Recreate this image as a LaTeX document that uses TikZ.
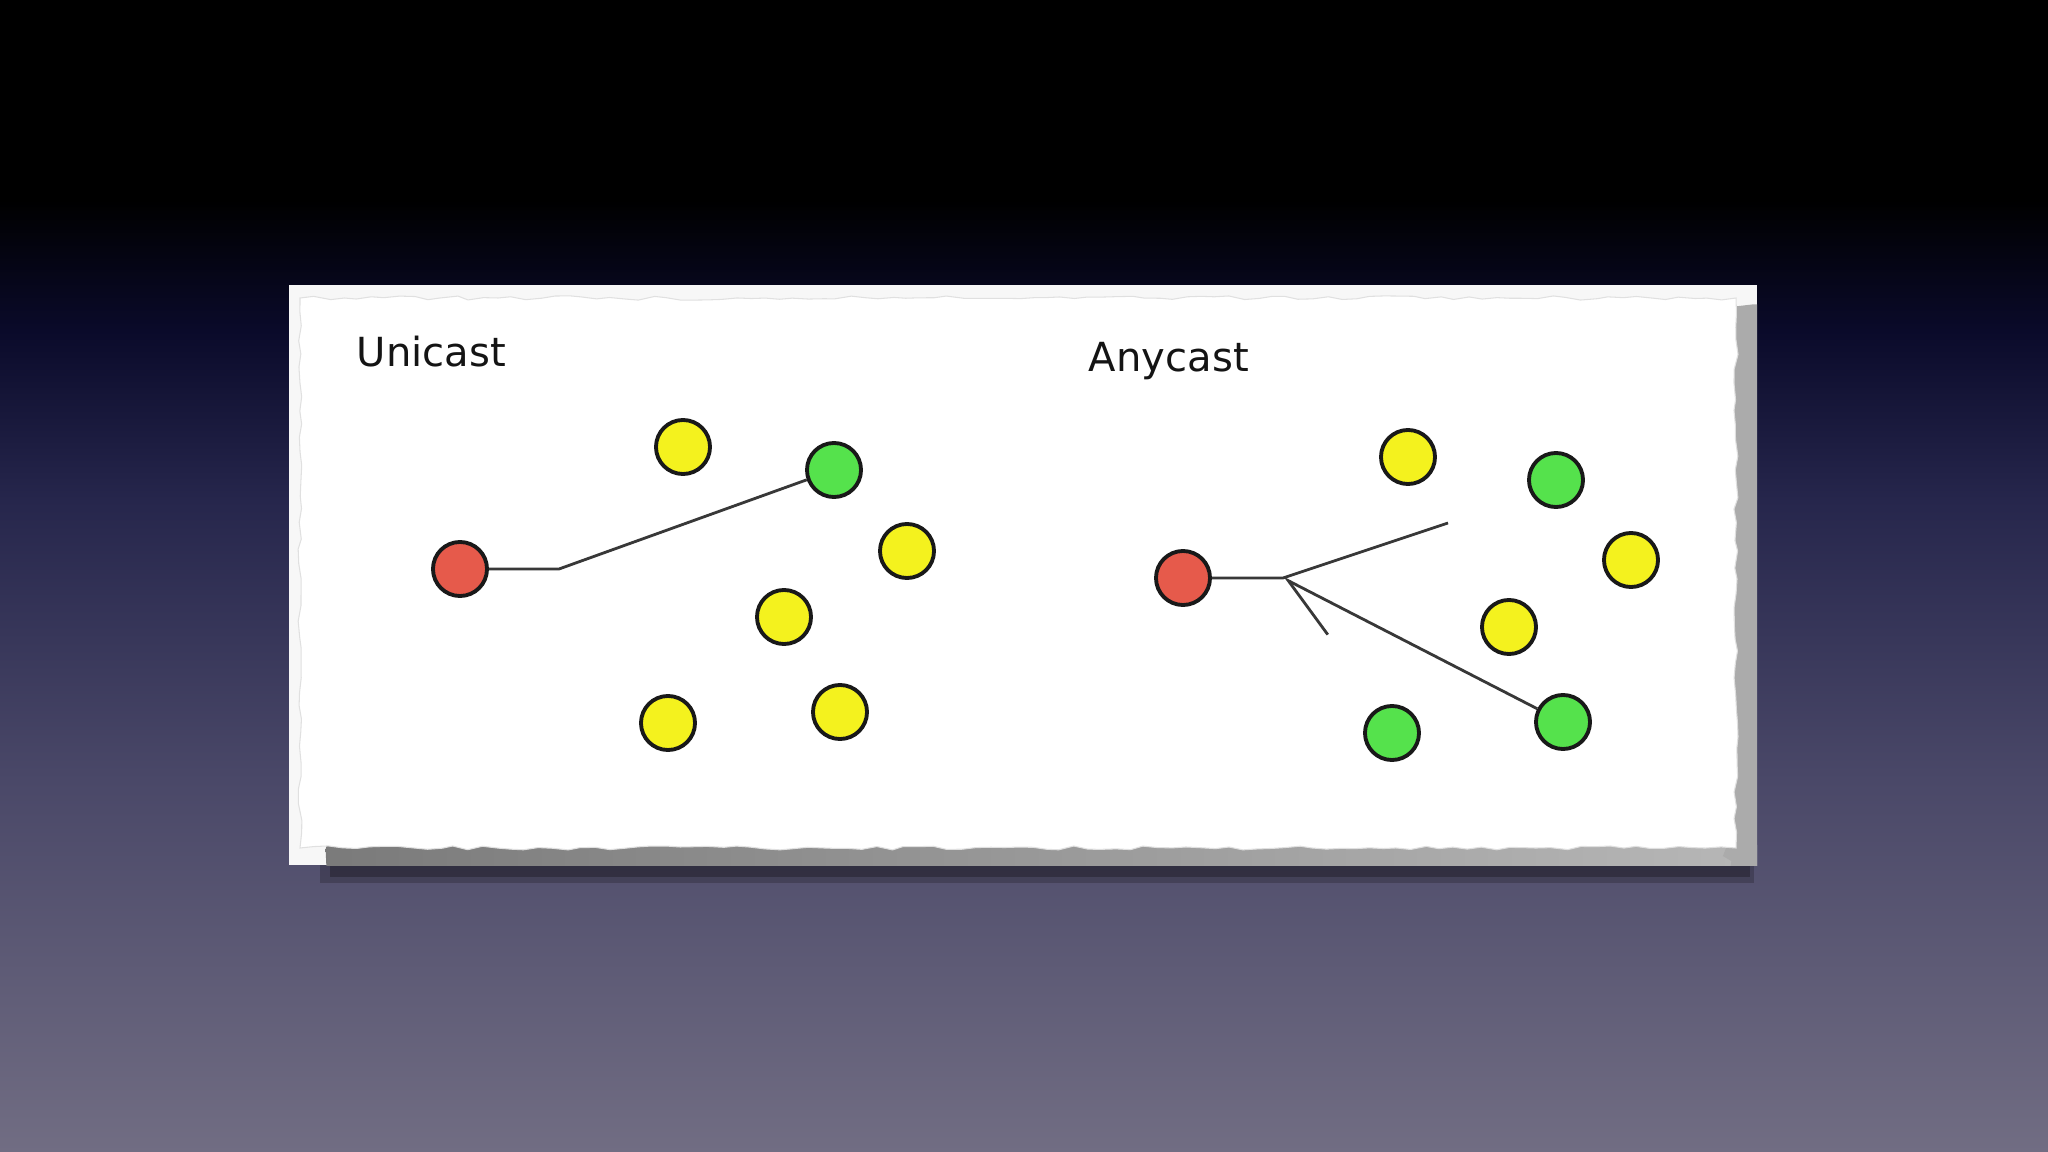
\documentclass[tikz,border=0pt]{standalone}
\usepackage{fontspec}
\setmainfont{DejaVu Sans}
\usetikzlibrary{arrows.meta,decorations.pathmorphing}
\definecolor{hostred}{HTML}{E65A4B}
\definecolor{hostyellow}{HTML}{F4F21E}
\definecolor{hostgreen}{HTML}{55E24C}
\definecolor{wiregray}{HTML}{383838}
\tikzset{every node/.style={circle,draw=black!90,line width=1.1pt,minimum size=5.4mm,inner sep=0pt}}
\tikzset{t/.style={rectangle,draw=none,minimum size=0pt,anchor=base west,text=black!92,font=\fontsize{11.4}{13}\selectfont}}
\tikzset{rd/.style={fill=hostred},yl/.style={fill=hostyellow},gr/.style={fill=hostgreen}}
\tikzset{wire/.style={draw=wiregray,line width=0.8pt}}

\begin{document}
\begin{tikzpicture}[x=0.01cm,y=-0.01cm]
      \useasboundingbox (0,0) rectangle (2048,1152);
      % slide background
      \shade[top color=black,bottom color=black] (0,0) rectangle (2048,200);
      \shade[top color=black,bottom color={rgb,255:red,10;green,10;blue,42}] (0,200) rectangle (2048,330);
      \shade[top color={rgb,255:red,10;green,10;blue,42},bottom color={rgb,255:red,38;green,38;blue,76}] (0,330) rectangle (2048,500);
      \shade[top color={rgb,255:red,38;green,38;blue,76},bottom color={rgb,255:red,74;green,72;blue,104}] (0,500) rectangle (2048,780);
      \shade[top color={rgb,255:red,74;green,72;blue,104},bottom color={rgb,255:red,113;green,109;blue,131}] (0,780) rectangle (2048,1152);
      % torn paper
      \fill[black,opacity=.2] (320,862) rectangle (1754,883);
      \fill[black,opacity=.25] (330,864) rectangle (1750,877);
      \fill[white!97!black] (289,285) rectangle (1757,865);
      \begin{scope}
        \clip (289,285) rectangle (1757,865);
        \pgfmathsetseed{5}
        \shade[left color=black!52,right color=black!28,decorate,decoration={random steps,segment length=4pt,amplitude=1.2pt}] (328,838) -- (1770,843) -- (1770,880) -- (328,880) -- cycle;
        \fill[black!33,decorate,decoration={random steps,segment length=4pt,amplitude=1.5pt}] (1726,305) -- (1770,305) -- (1770,880) -- (1728,880) -- cycle;
      \end{scope}
      \filldraw[fill=white,draw=black!12,line width=0.3pt,decorate,decoration={random steps,segment length=4pt,amplitude=0.6pt}] (300,298) rectangle (1736,848);

      \node[t] (ulabel) at (355,367) {Unicast};
      \node[rd] (ur) at (460,569) {};
      \node[yl] (uy1) at (683,447) {};
      \node[gr] (ug) at (834,470) {};
      \node[yl] (uy2) at (907,551) {};
      \node[yl] (uy3) at (784,617) {};
      \node[yl] (uy4) at (668,723) {};
      \node[yl] (uy5) at (840,712) {};
      \coordinate (ubend) at (559,569);
      \draw[wire] (ur) -- (ubend) -- (ug);

      \node[t] (alabel) at (1087,372) {Anycast};
      \node[rd] (ar) at (1183,578) {};
      \node[yl] (ay1) at (1408,457) {};
      \node[gr] (ag1) at (1556,480) {};
      \node[yl] (ay2) at (1631,560) {};
      \node[yl] (ay3) at (1509,627) {};
      \node[gr] (ag2) at (1392,733) {};
      \node[gr] (ag3) at (1563,722) {};
      \coordinate (ajoin) at (1283,578);
      \coordinate (aend) at (1448,523);
      \draw[wire] (ar) -- (ajoin) -- (aend);
      \draw[wire,-{Straight Barb[harpoon,length=17pt,width=17pt]}] (ag3) -- (ajoin);
    \end{tikzpicture}
\end{document}
